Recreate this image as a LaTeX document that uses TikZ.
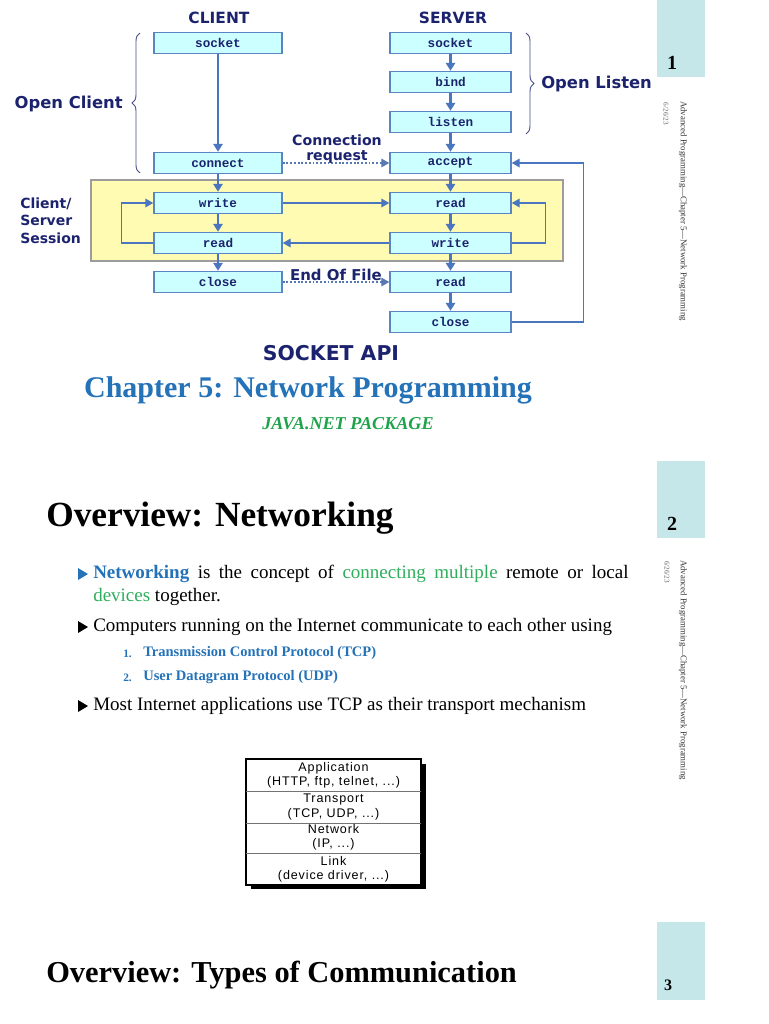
\documentclass[tikz,border=0pt]{standalone}
\usepackage{fontspec}
\setmainfont{Liberation Serif}
\newfontfamily\dvs{DejaVu Sans}
\newfontfamily\lmono{Liberation Mono}
\newfontfamily\lsans[LetterSpace=7]{Liberation Sans}
\usetikzlibrary{arrows.meta,decorations.pathreplacing,calc}
\definecolor{navy}{HTML}{1C236E}
\definecolor{boxfill}{HTML}{CCFFFF}
\definecolor{boxdraw}{HTML}{5A84C2}
\definecolor{arrowc}{HTML}{4A76C0}
\definecolor{yel}{HTML}{FFFBB2}
\definecolor{yeldraw}{HTML}{9C9C9C}
\definecolor{tblue}{HTML}{2472B8}
\definecolor{jgreen}{HTML}{1FA34A}
\definecolor{lgreen}{HTML}{2FAE5C}
\definecolor{sidefill}{HTML}{C5E7EA}
\tikzset{
  cbox/.style={draw=boxdraw, fill=boxfill, line width=1.1pt, minimum width=96pt,
    minimum height=15.75pt, inner sep=0pt, text=navy,
    font=\lmono\bfseries\fontsize{9.5}{10}\selectfont},
  sbox/.style={cbox, minimum width=90.75pt},
  arr/.style={draw=arrowc, line width=1.7pt, -{Triangle[length=6pt,width=7pt]}},
  thinarr/.style={draw=arrowc, line width=1.1pt, -{Triangle[length=6pt,width=6.5pt]}},
  darr/.style={draw=arrowc!75!gray, line width=0.9pt, dash pattern=on 1.4pt off 1.4pt,
    -{Triangle[length=6pt,width=6.5pt]}},
  lbl/.style={text=navy, inner sep=0pt, font=\dvs\bfseries\fontsize{10.9}{11}\selectfont},
  brc/.style={draw=navy!80, line width=0.7pt, decorate,
    decoration={brace, amplitude=6pt}},
  side/.style={rotate=-90, inner sep=0pt, text=black!80, font=\fontsize{6.6}{7}\selectfont},
  sdate/.style={rotate=-90, inner sep=0pt, text=black!60, font=\fontsize{5.4}{6}\selectfont},
  num/.style={inner sep=0pt, font=\bfseries\fontsize{15}{16}\selectfont},
  bul/.style={anchor=west, inner sep=0pt, font=\fontsize{14.25}{16}\selectfont},
  sub/.style={anchor=west, inner sep=0pt, text=tblue, font=\bfseries\fontsize{10.9}{12}\selectfont},
  layer/.style={inner sep=0pt, align=center, font=\lsans\fontsize{9.4}{10.8}\selectfont}
}
\begin{document}
\begin{tikzpicture}[x=0.75pt,y=-0.75pt]
\useasboundingbox (0,0) rectangle (768,1024);
\fill[white] (0,0) rectangle (768,1024);

% ---------------- Slide 1 ----------------
\fill[sidefill] (657,0) rectangle (705,77);
\node[num] (n1) at (672,63) {1};
\node[side] (s1) at (683,211) {Advanced Programming—Chapter 5—Network Programming};
\node[sdate] (d1) at (666,114) {6/26/23};

% session background
\node[draw=yeldraw, fill=yel, line width=0.8pt, minimum width=354pt, minimum height=60.75pt, inner sep=0pt] (sess) at (327,220.5) {};

% headers
\node[text=navy, font=\dvs\bfseries\fontsize{11.6}{12}\selectfont] (client) at (219,18) {CLIENT};
\node[text=navy, font=\dvs\bfseries\fontsize{11.6}{12}\selectfont] (server) at (453,18) {SERVER};

% client boxes
\node[cbox] (csock) at (218,43) {socket};
\node[cbox] (cconn) at (218,163) {connect};
\node[cbox] (cwrite) at (218,203) {write};
\node[cbox] (cread) at (218,243) {read};
\node[cbox] (cclose) at (218,282) {close};

% server boxes
\node[sbox] (ssock) at (450.5,43) {socket};
\node[sbox] (sbind) at (450.5,82) {bind};
\node[sbox] (slist) at (450.5,122) {listen};
\node[sbox] (sacc) at (450.5,163) {accept};
\node[sbox] (sread) at (450.5,203) {read};
\node[sbox] (swrite) at (450.5,243) {write};
\node[sbox] (sread2) at (450.5,282) {read};
\node[sbox] (sclose) at (450.5,322) {close};

% vertical arrows
\draw[arr] (csock) -- (cconn);
\draw[arr] (cconn) -- (cwrite);
\draw[arr] (cwrite) -- (cread);
\draw[arr] (cread) -- (cclose);
\draw[arr] (ssock) -- (sbind);
\draw[arr] (sbind) -- (slist);
\draw[arr] (slist) -- (sacc);
\draw[arr] (sacc) -- (sread);
\draw[arr] (sread) -- (swrite);
\draw[arr] (swrite) -- (sread2);
\draw[arr] (sread2) -- (sclose);

% horizontal connectors
\draw[thinarr] (cwrite.east) -- (sread.west);
\draw[thinarr] (swrite.west) -- (cread.east);
\draw[darr] (cconn.east) -- (sacc.west);
\draw[darr] (cclose.east) -- (sread2.west);

% loops
\draw[thinarr] (cread.west) -- ++(-32,0) |- (cwrite.west);
\draw[thinarr] (swrite.east) -- ++(34,0) |- (sread.east);
\draw[thinarr] (sclose.east) -- ++(72,0) |- (sacc.east);

% labels
\node[lbl, align=center, font=\dvs\bfseries\fontsize{10.6}{11}\selectfont] (connreq) at (337,149) {Connection\\request};
\node[lbl, font=\dvs\bfseries\fontsize{11.2}{12}\selectfont] (eof) at (336,275) {End Of File};
\node[lbl, align=left, anchor=west, font=\dvs\bfseries\fontsize{10.5}{13}\selectfont] (css) at (20,220.5) {Client/\\Server\\Session};

% braces
\coordinate (ocb) at (140,173);
\coordinate (oct) at (140,33);
\draw[brc] (ocb) -- (oct);
\node[lbl, anchor=east, font=\dvs\bfseries\fontsize{12.3}{13}\selectfont] (oc) at (123,104) {Open Client};
\coordinate (olt) at (526,33);
\coordinate (olb) at (526,134);
\draw[brc] (olt) -- (olb);
\node[lbl, anchor=west, font=\dvs\bfseries\fontsize{12.3}{13}\selectfont] (ol) at (541,84) {Open Listen};

\node[text=navy, font=\dvs\bfseries\fontsize{15.3}{16}\selectfont] (api) at (331,353) {SOCKET API};

\node[text=tblue, font=\bfseries\fontsize{22.5}{24}\selectfont] (ch) at (308,390) {Chapter 5: Network Programming};
\node[text=jgreen, font=\bfseries\itshape\fontsize{13.6}{15}\selectfont] (jnp) at (348,424) {JAVA.NET PACKAGE};

% ---------------- Slide 2 ----------------
\fill[sidefill] (657,461) rectangle (705,538);
\node[num] (n2) at (672,524) {2};
\node[side] (s2) at (683,670) {Advanced Programming—Chapter 5—Network Programming};
\node[sdate] (d2) at (667,572) {6/26/23};

\node[anchor=west, inner sep=0pt, font=\bfseries\fontsize{26.5}{28}\selectfont] (ov1) at (46,518) {Overview: Networking};

\fill[tblue] (78,568) -- (88,574) -- (78,580) -- cycle;
\fill[black] (78,621) -- (88,627) -- (78,633) -- cycle;
\fill[black] (78,700) -- (88,706) -- (78,712) -- cycle;

\node[bul] (b1) at (93,574) {\makebox[401.5pt][s]{\textcolor{tblue}{\bfseries Networking} is the concept of \textcolor{lgreen}{connecting multiple} remote or local}};
\node[bul] (b1b) at (93,597) {\textcolor{lgreen}{devices} together.};
\node[bul] (b2) at (93,627) {Computers running on the Internet communicate to each other using};
\node[sub, font=\bfseries\fontsize{8.5}{10}\selectfont] (s1n) at (123,654) {1.};
\node[sub] (s1t) at (143,653) {Transmission Control Protocol (TCP)};
\node[sub, font=\bfseries\fontsize{8.5}{10}\selectfont] (s2n) at (123,678) {2.};
\node[sub] (s2t) at (143,677) {User Datagram Protocol (UDP)};
\node[bul] (b3) at (93,706) {Most Internet applications use TCP as their transport mechanism};

% layer stack
\fill[black] (251,764) rectangle (426,889);
\draw[black, fill=white, line width=0.8pt] (246,759) rectangle (421,885);
\draw[black!55, line width=0.6pt] (246,791) -- (421,791);
\draw[black!55, line width=0.6pt] (246,823) -- (421,823);
\draw[black!55, line width=0.6pt] (246,853) -- (421,853);
\node[layer] (la) at (333.5,775) {Application\\(HTTP, ftp, telnet, ...)};
\node[layer] (lt) at (333.5,807) {Transport\\(TCP, UDP, ...)};
\node[layer] (ln) at (333.5,837) {Network\\(IP, ...)};
\node[layer] (ll) at (333.5,869) {Link\\(device driver, ...)};

% ---------------- Slide 3 ----------------
\fill[sidefill] (657,922) rectangle (705,1000);
\node[num, font=\bfseries\fontsize{12}{13}\selectfont] (n3) at (668,985) {3};
\node[anchor=west, inner sep=0pt, font=\bfseries\fontsize{22.8}{24}\selectfont] (ov3) at (46,975) {Overview: Types of Communication};
\end{tikzpicture}
\end{document}
